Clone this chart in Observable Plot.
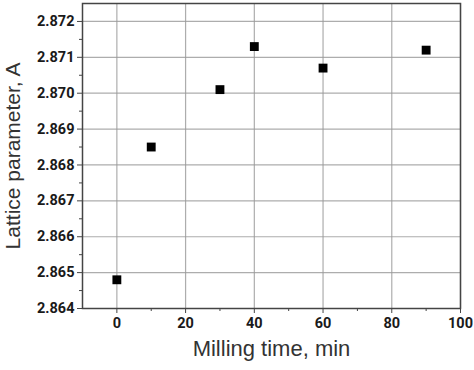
<!DOCTYPE html>
<html>
<head>
<meta charset="utf-8">
<script src="https://cdn.jsdelivr.net/npm/d3@7"></script>
<script src="https://cdn.jsdelivr.net/npm/@observablehq/plot@0.6"></script>
<style>
  html, body { margin: 0; padding: 0; background: #fff; }
</style>
</head>
<body>
<div id="chart"></div>
<script>
const millingTime = [0, 10, 30, 40, 60, 90];
const latticeParam = [2.8648, 2.8685, 2.8701, 2.8713, 2.8707, 2.8712];
const xTicks = [0, 20, 40, 60, 80, 100];
const xMinorTicks = [10, 30, 50, 70, 90];
const yTicks = [2.864, 2.865, 2.866, 2.867, 2.868, 2.869, 2.870, 2.871, 2.872];
const yMinorTicks = [2.8645, 2.8655, 2.8665, 2.8675, 2.8685, 2.8695, 2.8705, 2.8715];
const xTitle = "Milling time, min";
const yTitle = "Lattice parameter, A";

const data = millingTime.map((t, i) => ({t, a: latticeParam[i]}));

const chart = Plot.plot({
  width: 474,
  height: 370,
  marginLeft: 82,
  marginRight: 14,
  marginTop: 3,
  marginBottom: 62,
  style: {fontFamily: "Arial, 'Liberation Sans', sans-serif", background: "#fff"},
  x: {domain: [-10, 100]},
  y: {domain: [2.864, 2.8725]},
  marks: [
    Plot.gridX(xTicks, {stroke: "#999", strokeOpacity: 0.8, strokeWidth: 1.2}),
    Plot.gridY(yTicks, {stroke: "#999", strokeOpacity: 0.8, strokeWidth: 1.2}),
    Plot.axisX({ticks: xTicks, tickSize: 5, tickPadding: 4, label: null, fontSize: 14.5, fontWeight: 700, fill: "#1a1a1a", stroke: "#444", tickFormat: d => String(d)}),
    Plot.axisX({ticks: xMinorTicks, tickSize: 3, label: null, text: null, stroke: "#444"}),
    Plot.axisY({ticks: yTicks, tickSize: 5, tickPadding: 3, label: null, fontSize: 14.5, fontWeight: 700, fill: "#1a1a1a", stroke: "#444", tickFormat: d3.format(".3f")}),
    Plot.axisY({ticks: yMinorTicks, tickSize: 3, label: null, text: null, stroke: "#444"}),
    Plot.frame({stroke: "#444", strokeWidth: 1.5}),
    Plot.dot(data, {x: "t", y: "a", symbol: "square", r: 5, fill: "#000", stroke: "none"}),
    Plot.text([xTitle], {frameAnchor: "bottom", dy: 47, fontSize: 22, fill: "#333"}),
    Plot.text([yTitle], {frameAnchor: "left", textAnchor: "middle", dx: -69, rotate: -90, fontSize: 21, fill: "#333"})
  ]
});
document.getElementById("chart").appendChild(chart);
chart.querySelectorAll("text").forEach(el => {
  const t = el.textContent.trim();
  if (/^[0-9.]+$/.test(t)) {
    el.style.fontWeight = "bold";
    el.style.fontFamily = "Roboto, 'DejaVu Sans', sans-serif";
    el.style.fontSize = "14.5px";
    el.style.stroke = "none";
  }
});
</script>
</body>
</html>
